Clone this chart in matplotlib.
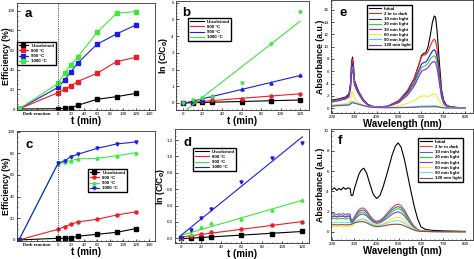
import numpy as np
import matplotlib
matplotlib.use("Agg")
import matplotlib.pyplot as plt

plt.rcParams["font.family"] = ["Liberation Sans", "DejaVu Sans"]
plt.rcParams["axes.linewidth"] = 0.6

# ---- panel a / c : efficiency vs time (first point = dark reaction) ----
t_eff = [-60, 0, 10, 20, 30, 60, 90, 120]
a_unc = [0, 0.3, 0.7, 1.4, 3.7, 9.9, 12.6, 16]
a_800 = [0, 16.7, 20, 23.5, 28, 36.4, 48.3, 52.7]
a_900 = [0, 22, 29.6, 38, 46.6, 66, 76.5, 85.7]
a_1000 = [0, 26, 36.4, 45, 52.7, 78, 97.6, 99.3]

c_unc = [0, 1.5, 1.5, 1.5, 3.4, 5.2, 7, 10.5]
c_800 = [0, 9.8, 12.3, 14.5, 16.6, 19, 23, 26]
c_900 = [0, 70, 71.7, 73.2, 74.8, 75.4, 77.8, 80.6]
c_1000 = [0, 70.8, 73, 77, 79, 84.6, 88.6, 90.5]

# ---- panel b / d : ln(C/C0) kinetics ----
t_kin = [0, 10, 20, 30, 60, 90, 120]
b_unc = [0, 0.02, 0.03, 0.04, 0.08, 0.14, 0.18]
b_800 = [0, 0.05, 0.1, 0.15, 0.26, 0.44, 0.54]
b_900 = [0, 0.12, 0.2, 0.4, 0.82, 1.18, 1.68]
b_1000 = [0, 0.15, 0.3, 0.35, 1.22, 3.54, 5.44]

d_unc = [0, 0, 0.008, 0.016, 0.037, 0.053, 0.09]
d_800 = [0, 0.03, 0.05, 0.078, 0.11, 0.156, 0.2]
d_900 = [0, 0.053, 0.14, 0.19, 0.23, 0.34, 0.47]
d_1000 = [0, 0.095, 0.245, 0.357, 0.69, 0.986, 1.17]

series_names = ["Uncalcined", "800 °C", "900 °C", "1000 °C"]

# ---- panel e : spectra ----
wl_e = [200, 230, 260, 275, 282, 287, 291, 295, 300, 310, 320, 340, 360, 380, 400, 450, 500, 540,
        570, 590, 603, 612, 622, 632, 642, 652, 660, 666, 673, 683, 693, 703, 715, 730, 760, 800]
e_init = [1.3, 1.5, 1.8, 2.3, 4.0, 7.5, 8.3, 7.2, 4.5, 3.5, 2.6, 1.4, 0.6, 0.3, 0.2, 0.3, 1.2, 2.8,
          4.8, 7.0, 8.6, 8.9, 9.0, 10.0, 11.8, 14.0, 15.0, 14.8, 12.5, 7.5, 3.0, 1.2, 0.5, 0.25, 0.1, 0.05]
e_dark = [1.2, 1.4, 1.7, 2.1, 3.7, 7.0, 8.0, 7.0, 4.4, 3.4, 2.5, 1.3, 0.6, 0.3, 0.2, 0.3, 1.2, 2.9,
          4.9, 7.0, 8.4, 8.6, 8.7, 9.2, 10.1, 10.9, 11.2, 11.0, 9.6, 6.0, 2.6, 1.0, 0.45, 0.2, 0.1, 0.05]
e_10 = [1.1, 1.3, 1.6, 2.0, 3.5, 6.5, 7.2, 6.4, 4.1, 3.2, 2.4, 1.2, 0.55, 0.25, 0.2, 0.28, 1.0, 2.5,
        4.2, 6.1, 7.2, 7.4, 7.5, 8.0, 8.7, 9.3, 9.5, 9.3, 8.2, 5.2, 2.3, 0.9, 0.4, 0.2, 0.1, 0.05]
e_20 = [1.1, 1.3, 1.5, 1.9, 3.3, 6.0, 6.7, 6.0, 3.9, 3.0, 2.3, 1.2, 0.5, 0.25, 0.2, 0.26, 0.95, 2.3,
        3.9, 5.6, 6.6, 6.8, 6.9, 7.3, 8.0, 8.4, 8.5, 8.3, 7.3, 4.6, 2.0, 0.8, 0.35, 0.18, 0.08, 0.05]
e_30 = [1.0, 1.2, 1.5, 1.8, 3.1, 5.6, 6.2, 5.5, 3.7, 2.9, 2.2, 1.1, 0.5, 0.25, 0.2, 0.25, 0.9, 2.1,
        3.6, 5.1, 6.0, 6.2, 6.3, 6.6, 7.1, 7.5, 7.6, 7.4, 6.5, 4.1, 1.8, 0.7, 0.3, 0.15, 0.08, 0.05]
e_60 = [0.5, 0.6, 0.7, 0.9, 1.5, 2.4, 2.7, 2.3, 1.5, 1.1, 0.8, 0.45, 0.25, 0.15, 0.1, 0.12, 0.35, 0.75,
        1.25, 1.7, 1.95, 2.0, 1.95, 1.9, 2.0, 2.2, 2.3, 2.25, 1.9, 1.2, 0.6, 0.25, 0.12, 0.07, 0.05, 0.03]
e_90 = [0.4, 0.5, 0.55, 0.6, 0.8, 1.0, 1.1, 1.0, 0.85, 0.75, 0.65, 0.45, 0.25, 0.15, 0.1, 0.08, 0.1, 0.15,
        0.2, 0.28, 0.32, 0.33, 0.33, 0.33, 0.34, 0.36, 0.37, 0.36, 0.32, 0.22, 0.12, 0.06, 0.04, 0.03, 0.02, 0.02]
e_120 = [0.3, 0.4, 0.45, 0.5, 0.65, 0.8, 0.85, 0.85, 0.8, 0.7, 0.6, 0.4, 0.22, 0.12, 0.08, 0.06, 0.07, 0.1,
         0.13, 0.17, 0.2, 0.2, 0.2, 0.2, 0.21, 0.22, 0.22, 0.22, 0.2, 0.14, 0.08, 0.04, 0.03, 0.02, 0.02, 0.02]

# ---- panel f : spectra ----
wl_f = [200, 210, 220, 230, 240, 250, 260, 270, 280, 285, 292, 300, 310, 320, 330, 342, 355, 370, 385,
        400, 415, 430, 450, 470, 485, 497, 510, 525, 540, 555, 570, 585, 600, 620, 650, 700, 800]
f_init = [4.2, 4.35, 4.1, 4.3, 4.15, 4.4, 4.2, 4.35, 4.3, 3.6, 3.6, 4.3, 5.0, 5.7, 6.1, 6.3, 5.8, 4.7, 3.7,
          3.3, 3.6, 4.5, 6.0, 7.6, 8.5, 8.8, 8.4, 7.2, 5.6, 4.0, 2.5, 1.3, 0.5, 0.25, 0.15, 0.1, 0.05]
f_dark = [1.55, 1.6, 1.5, 1.6, 1.55, 1.6, 1.5, 1.6, 1.55, 1.2, 1.2, 1.5, 1.9, 2.2, 2.35, 2.35, 2.1, 1.6, 1.2,
          1.05, 1.15, 1.4, 1.9, 2.4, 2.65, 2.75, 2.6, 2.2, 1.6, 1.0, 0.55, 0.25, 0.1, 0.06, 0.04, 0.03, 0.02]
f_10 = [1.75, 1.8, 1.7, 1.8, 1.75, 1.8, 1.7, 1.8, 1.75, 1.1, 1.1, 1.4, 1.75, 2.0, 2.15, 2.15, 1.95, 1.5, 1.1,
        0.95, 1.05, 1.3, 1.75, 2.2, 2.42, 2.5, 2.38, 2.0, 1.45, 0.9, 0.5, 0.22, 0.1, 0.06, 0.04, 0.03, 0.02]
f_20 = [1.3, 1.35, 1.25, 1.35, 1.3, 1.35, 1.25, 1.35, 1.3, 1.0, 1.0, 1.3, 1.6, 1.85, 1.95, 1.95, 1.75, 1.35, 1.0,
        0.9, 1.0, 1.2, 1.6, 2.0, 2.22, 2.3, 2.18, 1.85, 1.35, 0.85, 0.45, 0.2, 0.09, 0.05, 0.04, 0.03, 0.02]
f_30 = [1.5, 1.55, 1.45, 1.55, 1.5, 1.55, 1.45, 1.55, 1.5, 0.95, 0.95, 1.2, 1.45, 1.65, 1.75, 1.75, 1.6, 1.25, 0.95,
        0.85, 0.92, 1.1, 1.4, 1.75, 1.92, 1.98, 1.88, 1.6, 1.17, 0.75, 0.4, 0.18, 0.08, 0.05, 0.04, 0.03, 0.02]
f_60 = [0.5, 0.55, 0.5, 0.55, 0.5, 0.55, 0.5, 0.55, 0.5, 0.55, 0.6, 0.8, 1.0, 1.2, 1.3, 1.3, 1.2, 0.95, 0.75,
        0.7, 0.75, 0.85, 1.05, 1.3, 1.42, 1.45, 1.38, 1.17, 0.85, 0.55, 0.3, 0.14, 0.07, 0.05, 0.04, 0.03, 0.02]
f_90 = [0.9, 0.95, 0.9, 0.95, 0.9, 0.95, 0.9, 0.95, 0.9, 0.8, 0.8, 0.95, 1.1, 1.2, 1.22, 1.2, 1.1, 0.85, 0.68,
        0.62, 0.66, 0.75, 0.9, 1.02, 1.1, 1.12, 1.05, 0.88, 0.65, 0.42, 0.23, 0.11, 0.06, 0.04, 0.03, 0.03, 0.02]
f_120 = [0.7, 0.72, 0.68, 0.72, 0.7, 0.72, 0.68, 0.72, 0.7, 0.75, 0.8, 0.9, 0.95, 1.0, 1.02, 1.0, 0.9, 0.72, 0.58,
         0.52, 0.54, 0.6, 0.68, 0.74, 0.76, 0.76, 0.72, 0.6, 0.45, 0.3, 0.17, 0.09, 0.05, 0.04, 0.03, 0.03, 0.02]

spec_names = ["Initial", "2 hr in dark", "10 min light", "20 min light", "30 min light",
              "60 min light", "90 min light", "120 min light"]
e_cols = ["black", "#ff1f1f", "#1c1cf0", "#2ed82e", "#9020f0", "#f2f020", "#22e0e0", "#7d4a9c"]
f_cols = ["black", "#e8453c", "#3a6fc4", "#2ad42a", "#7b3fe0", "#f3ee3a", "#6fe3e3", "#8b4a3a"]

W, H = 474, 259
fig = plt.figure(figsize=(W / 100, H / 100), dpi=100)


def box(l, t, r, b):
    return [l / W, 1 - b / H, (r - l) / W, (b - t) / H]


def style(ax):
    ax.tick_params(direction="in", length=1.8, width=0.5, labelsize=3.2, pad=1.5)
    ax.tick_params(which="minor", direction="in", length=1.0, width=0.4)
    ax.minorticks_on()
    for s in ax.spines.values():
        s.set_color("#333333")


def ylab(ax, text, right_px, left_px):
    # place the rotated y label so that its right edge sits at right_px
    ax.set_ylabel(text, fontsize=6.3, fontweight="bold")
    w = ax.get_position().width * W
    ax.yaxis.set_label_coords((right_px - left_px) / w, 0.5)


def leg(ax, l, t, **kw):
    return ax.legend(loc="upper left", bbox_to_anchor=(l / W, 1 - t / H), bbox_transform=fig.transFigure,
                     prop={"weight": "bold", "size": 3.2}, frameon=True, fancybox=False, framealpha=1,
                     edgecolor="black", borderpad=0.35, labelspacing=0.25, handletextpad=0.7,
                     borderaxespad=0, **kw)


def panel_letter(x, y, s):
    fig.text(x / W, 1 - y / H, s, fontsize=9.5, fontweight="bold", ha="center", va="center")


ms = 2.2
# ---- a ----
ax = fig.add_axes(box(17, 3, 155, 110))
style(ax)
cols_a = ["black", "#ee1c24", "#1c1ce8", "#3ce83c"]
for y, c, n in zip([a_unc, a_800, a_900, a_1000], cols_a, series_names):
    ax.plot(t_eff, y, color=c, lw=0.8, marker="s", ms=ms, label=n)
ax.axvline(0, color="black", ls=":", lw=0.6)
ax.set_xlim(-63, 149)
ax.set_ylim(-1, 108)
ax.set_xticks([-33, 0, 20, 40, 60, 80, 100, 120, 140])
ax.set_xticklabels(["Dark reaction", "0", "20", "40", "60", "80", "100", "120", "140"])
ax.get_xticklabels()[0].set_fontweight("bold")
ax.set_yticks([0, 20, 40, 60, 80, 100])
ax.set_xlabel("t (min)", fontsize=7, fontweight="bold", labelpad=0)
ylab(ax, "Efficiency (%)", 11, 17)
leg(ax, 17, 42, handlelength=2.2)
panel_letter(28, 14, "a")

# ---- c ----
ax = fig.add_axes(box(17, 131, 155, 241))
style(ax)
cols_c = ["black", "#ee1c24", "#3ce83c", "#1c1ce8"]
marks_c = ["s", "o", "^", "v"]
for y, c, m, n in zip([c_unc, c_800, c_900, c_1000], cols_c, marks_c, series_names):
    ax.plot(t_eff, y, color=c, lw=0.8, marker=m, ms=ms, label=n)
ax.axvline(0, color="black", ls=":", lw=0.6)
ax.set_xlim(-63, 149)
ax.set_ylim(-1, 100.6)
ax.set_xticks([-33, 0, 20, 40, 60, 80, 100, 120, 140])
ax.set_xticklabels(["Dark reaction", "0", "20", "40", "60", "80", "100", "120", "140"])
ax.get_xticklabels()[0].set_fontweight("bold")
ax.set_yticks([0, 20, 40, 60, 80, 100])
ax.set_xlabel("t (min)", fontsize=7, fontweight="bold", labelpad=0)
ylab(ax, "Efficiency (%)", 11, 17)
leg(ax, 88, 169, handlelength=2.2)
panel_letter(29, 145, "c")

# ---- b ----
ax = fig.add_axes(box(176, 1, 309, 110))
style(ax)
cols_b = ["black", "#ee1c24", "#1c1ce8", "#3ce83c"]
marks_b = ["s", "o", "^", "v"]
for y, c, m, n in zip([b_unc, b_800, b_900, b_1000], cols_b, marks_b, series_names):
    k, q = np.polyfit(t_kin, y, 1)
    ax.plot(t_kin, y, ls="none", marker=m, color=c, ms=ms)
    ax.plot([0, 120], [q, q + 120 * k], color=c, lw=0.8, label=n)
ax.set_xlim(-7, 129)
ax.set_ylim(-0.42, 6.1)
ax.set_xticks(range(0, 121, 20))
ax.set_yticks(range(0, 7))
ax.set_xlabel("t (min)", fontsize=7, fontweight="bold", labelpad=0)
ylab(ax, r"ln (C/C$_\mathbf{0}$)", 170, 176)
leg(ax, 188, 18, handlelength=3.2)
panel_letter(186, 13, "b")

# ---- d ----
ax = fig.add_axes(box(175, 129, 309, 243))
style(ax)
cols_d = ["black", "#ee1c24", "#3ce83c", "#1c1ce8"]
marks_d = ["s", "o", "^", "v"]
for y, c, m, n in zip([d_unc, d_800, d_900, d_1000], cols_d, marks_d, series_names):
    k, q = np.polyfit(t_kin, y, 1)
    ax.plot(t_kin, y, ls="none", marker=m, color=c, ms=ms)
    ax.plot([0, 120], [q, q + 120 * k], color=c, lw=0.8, label=n)
ax.set_xlim(-5.6, 126.6)
ax.set_ylim(-0.058, 1.335)
ax.set_xticks(range(0, 121, 20))
ax.set_yticks(np.arange(0, 1.21, 0.2))
ax.yaxis.set_major_formatter(matplotlib.ticker.FormatStrFormatter("%.1f"))
ax.set_xlabel("t (min)", fontsize=7, fontweight="bold", labelpad=0)
ylab(ax, r"ln (C/C$_\mathbf{0}$)", 167, 175)
leg(ax, 193, 148, handlelength=3.2)
panel_letter(188, 143, "d")

# ---- e ----
ax = fig.add_axes(box(331, 0, 473, 113))
style(ax)
for y, c, n in zip([e_init, e_dark, e_10, e_20, e_30, e_60, e_90, e_120], e_cols, spec_names):
    ax.plot(wl_e, y, color=c, lw=0.8, label=n)
ax.set_xlim(194, 835)
ax.set_ylim(-0.8, 17.6)
ax.set_xticks(range(200, 801, 100))
ax.set_yticks(range(0, 17, 2))
ax.set_xlabel("Wavelength (nm)", fontsize=7, fontweight="bold", labelpad=0)
ylab(ax, "Absorbance (a.u.)", 325, 331)
leg(ax, 367, 5, handlelength=2.8)
panel_letter(343, 13, "e")

# ---- f ----
ax = fig.add_axes(box(331, 129, 473, 240))
style(ax)
for y, c, n in zip([f_init, f_dark, f_10, f_20, f_30, f_60, f_90, f_120], f_cols, spec_names):
    ax.plot(wl_f, y, color=c, lw=0.8, label=n)
ax.set_xlim(194, 835)
ax.set_ylim(-0.8, 10.17)
ax.set_xticks(range(200, 801, 100))
ax.set_yticks(range(0, 11, 2))
ax.set_xlabel("Wavelength (nm)", fontsize=7, fontweight="bold", labelpad=0)
ylab(ax, "Absorbance (a.u.)", 325, 331)
leg(ax, 418, 138, handlelength=2.8)
panel_letter(340, 141, "f")

plt.savefig("out.png", dpi=100)
plt.close()
